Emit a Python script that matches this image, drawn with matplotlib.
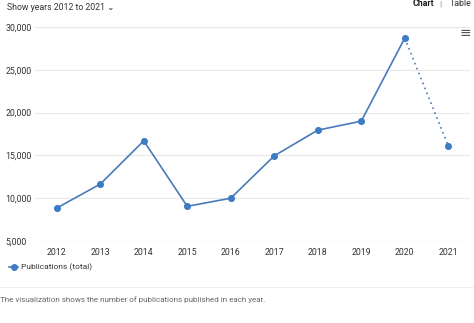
import matplotlib
matplotlib.use('Agg')
from matplotlib import pyplot as plt

years = ['2012', '2013', '2014', '2015', '2016', '2017', '2018', '2019', '2020', '2021']
publications = [8850, 11650, 16700, 9050, 10000, 14950, 17950, 19000, 28700, 16100]
y_ticks = [5000, 10000, 15000, 20000, 25000, 30000]

BLUE = '#3d7cc4'
plt.rcParams['font.family'] = ['Roboto', 'DejaVu Sans']

fig = plt.figure(figsize=(4.74, 3.23), dpi=100)
ax = fig.add_axes([35 / 474, 82 / 323, 435 / 474, 214 / 323])

x = list(range(len(years)))
# solid line up to the last complete year, dotted for the last one
ax.plot(x[:-1], publications[:-1], color='#4a7ab8', lw=1.2, zorder=2)
ax.plot(x[-2:], publications[-2:], color='#4a7ab8', lw=1.2, ls=(0, (1, 2.2)), zorder=2)
ax.scatter(x, publications, s=26, color=BLUE, zorder=3, linewidths=0)

ax.set_xlim(-0.5, len(years) - 0.5)
ax.set_ylim(5000, 30000)
ax.set_xticks(x)
ax.set_xticklabels(years)
ax.set_yticks(y_ticks)
ax.set_yticklabels([f'{v:,}' for v in y_ticks])
ax.tick_params(axis='both', length=0, labelsize=6.3, colors='#333333')
ax.tick_params(axis='x', pad=5)
for lbl in ax.get_yticklabels():
    lbl.set_horizontalalignment('left')
ax.tick_params(axis='y', pad=21.5)
ax.grid(axis='y', color='#e8e8e8', lw=0.8)
ax.set_axisbelow(True)
for s in ax.spines.values():
    s.set_visible(False)
ax.axhline(5000, color='#d8dde6', lw=0.8, zorder=1)

# header
fig.text(7 / 474, 1 - 7 / 323, 'Show years 2012 to 2021 \u2304', fontsize=6.3, color='#333333', va='center')
fig.text(413 / 474, 1 - 4 / 323, 'Chart', fontsize=6.3, color='#222222', weight='bold', va='center')
fig.text(439 / 474, 1 - 4 / 323, '|', fontsize=6, color='#888888', va='center')
fig.text(472 / 474, 1 - 4 / 323, 'Table', fontsize=6.3, color='#333333', va='center', ha='right')
fig.text(465 / 474, 1 - 33 / 323, '\u2261', fontsize=10, color='#555555', va='center', ha='center')

# legend
fig.lines.append(plt.Line2D([9 / 474, 18 / 474], [1 - 267 / 323] * 2, transform=fig.transFigure,
                            color='#4a7ab8', lw=1.2))
fig.lines.append(plt.Line2D([13.5 / 474], [1 - 267 / 323], transform=fig.transFigure,
                            marker='o', ms=5, color=BLUE, mew=0))
fig.text(21 / 474, 1 - 267 / 323, 'Publications (total)', fontsize=6, color='#333333', va='center')
fig.lines.append(plt.Line2D([0, 1], [1 - 287 / 323] * 2, transform=fig.transFigure,
                            color='#eeeeee', lw=0.8))

fig.text(0, 1 - 300 / 323, 'The visualization shows the number of publications published in each year.',
         fontsize=5.8, color='#666666', va='center')

fig.savefig('out.png', dpi=100)
